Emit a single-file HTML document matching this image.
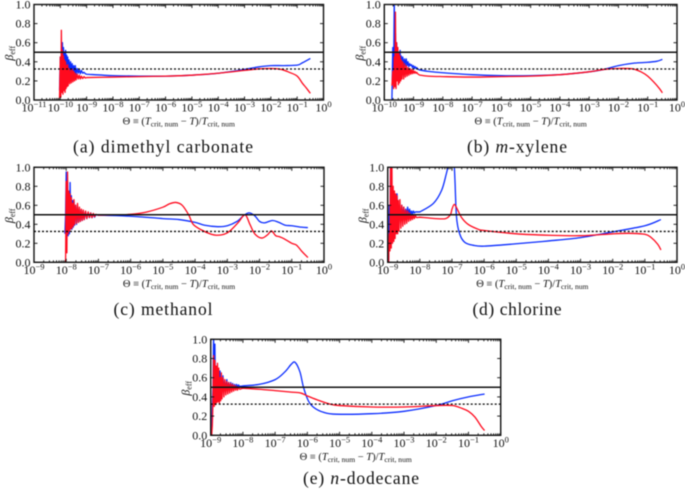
<!DOCTYPE html>
<html lang="en">
<head>
<meta charset="utf-8">
<title>Effective critical exponent charts</title>
<style>
html,body{margin:0;padding:0;background:#fff;width:685px;height:489px;overflow:hidden}
svg{display:block;filter:blur(.45px);font-family:"Liberation Serif","DejaVu Serif",serif;fill:#111}
</style>
</head>
<body>
<svg id="figure" width="685" height="489" viewBox="0 0 685 489" xmlns="http://www.w3.org/2000/svg">
<rect width="685" height="489" fill="#fff"/>
<text x="163" y="152.5" text-anchor="middle" font-size="17.5" textLength="180" lengthAdjust="spacing">(a) dimethyl carbonate</text>
<text x="517" y="152.5" text-anchor="middle" font-size="17.5" textLength="100" lengthAdjust="spacing">(b) <tspan font-style="italic">m</tspan>-xylene</text>
<text x="163" y="315" text-anchor="middle" font-size="17.5" textLength="99" lengthAdjust="spacing">(c) methanol</text>
<text x="517" y="315" text-anchor="middle" font-size="17.5" textLength="89" lengthAdjust="spacing">(d) chlorine</text>
<text x="361" y="484" text-anchor="middle" font-size="17.5" textLength="116" lengthAdjust="spacing">(e) <tspan font-style="italic">n</tspan>-dodecane</text>
</svg>
<script>
// Reference levels and y axis
const refSolid = 0.5;
const refDotted = 0.325;
const yTickValues = [0, 0.2, 0.4, 0.6, 0.8, 1.0];
const yTickLabels = ['0.0', '0.2', '0.4', '0.6', '0.8', '1.0'];

// Panel (a) dimethyl carbonate
const aNoiseX = [-10.03,-10,-9.98,-9.96,-9.94, -9.92,-9.9,-9.88,-9.86,-9.84, -9.82,-9.8,-9.78,-9.76,-9.74, -9.72,-9.7,-9.67,-9.64,-9.61, -9.58,-9.55,-9.52,-9.49,-9.46, -9.43,-9.4,-9.36,-9.32,-9.28, -9.24,-9.2,-9.15,-9.1,-9.05];
const aNoiseRed = [.02,.45,.03,.73,.08, .52,.06,.46,.1,.42, .08,.4,.12,.36,.14, .37,.15,.33,.17,.31, .18,.32,.19,.3,.2, .28,.21,.27,.22,.26, .22,.25,.225,.245,.23];
const aNoiseBlue = [.1,.45,.2,.42,.15, .6,.18,.55,.2,.5, .22,.52,.2,.47,.25, .45,.24,.42,.26,.4, .27,.38,.27,.36,.28, .36,.27,.33,.28,.32, .275,.31,.28,.29,.275];
const aRedX = [-9,-8,-7,-6,-5,-4,-3,-2.5,-2,-1.6,-1.3,-1,-.8,-.65,-.5];
const aRedY = [.235,.24,.245,.25,.26,.28,.31,.325,.33,.32,.29,.25,.175,.125,.07];
const aBlueX = [-9,-8,-7,-6,-5,-4,-3,-2.5,-2,-1.5,-1,-.8,-.5];
const aBlueY = [.27,.255,.25,.25,.26,.28,.32,.345,.36,.36,.365,.39,.435];

// Panel (b) m-xylene
const bNoiseX = [-9.74,-9.71,-9.68,-9.66,-9.64, -9.62,-9.6,-9.58,-9.56,-9.54, -9.52,-9.5,-9.48,-9.46,-9.44, -9.42,-9.4,-9.37,-9.34,-9.31, -9.28,-9.25,-9.22,-9.19,-9.16, -9.13,-9.1,-9.07,-9.04,-9.01, -8.98,-8.95,-8.92,-8.89,-8.86];
const bNoiseRed = [.15,.3,.12,.45,.14, .92,.12,.6,.2,.55, .16,.5,.18,.46,.2, .42,.22,.4,.22,.38, .24,.36,.25,.34,.26, .33,.27,.32,.275,.31, .28,.3,.28,.29,.275];
const bNoiseBlue = [0,.55,.3,1.05,.25, .7,.3,.6,.3,.55, .28,.5,.3,.52,.32, .46,.34,.45,.35,.43, .36,.43,.36,.4,.35, .38,.36,.37,.34,.36, .33,.35,.33,.34,.325];
const bRedX = [-8.8,-8.5,-8,-7,-6,-5,-4,-3,-2.5,-2,-1.5,-1.2,-1,-.8,-.6,-.5];
const bRedY = [.262,.25,.245,.24,.245,.25,.265,.295,.32,.33,.325,.29,.25,.19,.12,.075];
const bBlueX = [-8.8,-8.5,-8,-7,-6,-5,-4,-3,-2.5,-2,-1.5,-1,-.7,-.5];
const bBlueY = [.315,.3,.285,.265,.255,.255,.265,.295,.32,.36,.385,.395,.405,.425];

// Panel (c) methanol
const cNoiseX = [-8.04,-8.02,-8,-7.98,-7.96, -7.94,-7.92,-7.9,-7.88,-7.86, -7.84,-7.82,-7.8,-7.78,-7.76, -7.74,-7.71,-7.68,-7.65,-7.62, -7.59,-7.56,-7.53,-7.5,-7.47, -7.44,-7.4,-7.36,-7.32,-7.28, -7.24,-7.2,-7.16,-7.12,-7.08];
const cNoiseRed = [0,0,.85,.1,.95, .3,.75,.33,.72,.35, .68,.36,.62,.38,.66, .4,.6,.41,.62,.42, .58,.43,.56,.44,.55, .45,.54,.46,.53,.47, .52,.47,.515,.48,.505];
const cNoiseBlue = [.3,.5,.95,.3,.85, .28,.6,.3,.84,.35, .7,.35,.65,.37,.64, .39,.6,.4,.58,.42, .56,.43,.55,.44,.54, .45,.53,.46,.525,.47, .52,.47,.51,.475,.5];
const cRedX = [-7,-6.5,-6,-5.5,-5,-4.8,-4.6,-4.4,-4.2,-4.06,-3.8,-3.5,-3.33,-3.1,-2.92,-2.66,-2.45,-2.3,-2.15,-1.93,-1.75,-1.63,-1.5,-1.39,-1.25,-1,-.85,-.7,-.5];
const cRedY = [.495,.5,.505,.53,.58,.615,.63,.6,.5,.4,.34,.295,.285,.295,.33,.42,.5,.4,.3,.255,.29,.33,.28,.27,.25,.2,.18,.12,.05];
const cBlueX = [-7,-6,-5,-4.5,-4,-3.7,-3.3,-3,-2.7,-2.5,-2.33,-2.15,-2,-1.85,-1.6,-1.4,-1.2,-1,-.7,-.5];
const cBlueY = [.495,.485,.46,.45,.42,.39,.375,.385,.43,.49,.52,.49,.43,.415,.44,.42,.39,.385,.37,.365];

// Panel (d) chlorine
const dNoiseX = [-8.97,-8.95,-8.93,-8.91,-8.89, -8.87,-8.85,-8.83,-8.81,-8.79, -8.77,-8.75,-8.73,-8.71,-8.69, -8.67,-8.65,-8.62,-8.59,-8.56, -8.53,-8.5,-8.47,-8.44,-8.41, -8.38,-8.35,-8.32,-8.29,-8.26, -8.23,-8.2,-8.17,-8.14,-8.1];
const dNoiseRed = [0,.3,.12,1.05,.15, 1.05,.2,.8,.22,.75, .25,.72,.3,.7,.3, .65,.33,.66,.36,.6, .38,.58,.4,.55,.41, .54,.43,.52,.44,.5, .45,.5,.46,.49,.47];
const dNoiseBlue = [0,.6,.3,1.05,.35, .7,.35,.6,.38,.55, .36,.5,.4,.72,.42, .6,.45,.58,.44,.6, .46,.58,.48,.56,.5, .58,.5,.56,.5,.54, .51,.54,.52,.53,.53];
const dRedX = [-8,-7.5,-7.2,-7.05,-7,-6.93,-6.85,-6.7,-6.5,-6.2,-6,-5,-4,-3,-2,-1.5,-1,-.8,-.6,-.5];
const dRedY = [.475,.46,.46,.5,.56,.61,.57,.47,.4,.35,.335,.3,.285,.28,.3,.305,.295,.26,.19,.13];
const dBlueX = [-8,-7.58,-7.32,-7.17,-7.08,-6.94,-6.86,-6.75,-6.6,-6.35,-6,-5,-4,-3,-2,-1,-.5];
const dBlueY = [.53,.62,.76,.94,1.05,1.05,.48,.29,.21,.18,.17,.195,.225,.26,.32,.385,.45];

// Panel (e) n-dodecane
const eNoiseX = [-8.97,-8.95,-8.93,-8.91,-8.89, -8.87,-8.85,-8.83,-8.81,-8.79, -8.77,-8.75,-8.73,-8.71,-8.69, -8.67,-8.65,-8.62,-8.59,-8.56, -8.53,-8.5,-8.47,-8.44,-8.41, -8.38,-8.35,-8.32,-8.29,-8.26, -8.23,-8.2,-8.17,-8.14,-8.1];
const eNoiseRed = [0,.1,.35,.83,.3, .78,.32,.72,.34,.75, .35,.7,.33,.6,.36, .65,.38,.6,.4,.58, .42,.56,.43,.55,.44, .54,.45,.53,.46,.52, .47,.51,.47,.5,.48];
const eNoiseBlue = [0,.3,.5,1.05,.4, .95,.4,.72,.42,.7, .44,.6,.42,.67,.44, .6,.46,.62,.46,.56, .47,.58,.47,.55,.48, .55,.49,.54,.49,.53, .5,.53,.5,.525,.51];
const eRedX = [-8,-7.5,-7,-6.5,-6.2,-6,-5.7,-5.3,-5,-4,-3,-2,-1.5,-1.2,-1,-.8,-.6,-.5];
const eRedY = [.49,.48,.465,.45,.44,.41,.37,.325,.31,.295,.295,.31,.31,.28,.25,.19,.09,.05];
const eBlueX = [-8,-7.5,-7,-6.7,-6.5,-6.38,-6.23,-6.12,-5.97,-5.8,-5.5,-5.1,-4,-3,-2,-1.5,-1,-.5];
const eBlueY = [.515,.53,.58,.66,.74,.76,.66,.5,.36,.29,.24,.22,.225,.25,.31,.36,.4,.43];

const panels = [
  {id:'a', left:34, right:323.5, top:4.5, bottom:100, minExp:-11, noiseX:aNoiseX, noiseRed:aNoiseRed, noiseBlue:aNoiseBlue, redX:aRedX, redY:aRedY, blueX:aBlueX, blueY:aBlueY},
  {id:'b', left:384.3, right:677, top:4.5, bottom:100, minExp:-10, noiseX:bNoiseX, noiseRed:bNoiseRed, noiseBlue:bNoiseBlue, redX:bRedX, redY:bRedY, blueX:bBlueX, blueY:bBlueY},
  {id:'c', left:34, right:324, top:167.3, bottom:262.3, minExp:-9, noiseX:cNoiseX, noiseRed:cNoiseRed, noiseBlue:cNoiseBlue, redX:cRedX, redY:cRedY, blueX:cBlueX, blueY:cBlueY},
  {id:'d', left:387.7, right:677, top:167.3, bottom:262.3, minExp:-9, noiseX:dNoiseX, noiseRed:dNoiseRed, noiseBlue:dNoiseBlue, redX:dRedX, redY:dRedY, blueX:dBlueX, blueY:dBlueY},
  {id:'e', left:210.7, right:500.7, top:339.3, bottom:435.3, minExp:-9, noiseX:eNoiseX, noiseRed:eNoiseRed, noiseBlue:eNoiseBlue, redX:eRedX, redY:eRedY, blueX:eBlueX, blueY:eBlueY}
];

const NS = 'http://www.w3.org/2000/svg';
const figure = document.getElementById('figure');
function make(tag, attrs, parent) {
  const el = document.createElementNS(NS, tag);
  for (const k in attrs) el.setAttribute(k, attrs[k]);
  parent.appendChild(el);
  return el;
}

panels.forEach(function (p) {
  const xScale = function (v) { return p.left + (v - p.minExp) / (0 - p.minExp) * (p.right - p.left); };
  const yScale = function (v) { return p.bottom - v * (p.bottom - p.top); };
  const group = make('g', {}, figure);
  
  

  const clip = make('clipPath', {id: 'clip-' + p.id}, group);
  make('rect', {x: p.left, y: p.top, width: p.right - p.left, height: p.bottom - p.top}, clip);

  const plot = make('g', {'clip-path': 'url(#clip-' + p.id + ')'}, group);
  
  

  // Zigzag through the noisy samples, then a smooth curve through the rest.
  const toPath = function (nx, ny, xs, ys) {
    let d = '';
    nx.forEach(function (x, i) {
      d += (i ? 'L' : 'M') + xScale(x).toFixed(2) + ' ' + yScale(ny[i]).toFixed(2);
    });
    const px = xs.map(xScale);
    const py = ys.map(yScale);
    d += 'L' + px[0].toFixed(2) + ' ' + py[0].toFixed(2);
    for (let i = 0; i < px.length - 1; i++) {
      const a = Math.max(i - 1, 0);
      const b = Math.min(i + 2, px.length - 1);
      const c1x = px[i] + (px[i + 1] - px[a]) / 6;
      const c1y = py[i] + (py[i + 1] - py[a]) / 6;
      const c2x = px[i + 1] - (px[b] - px[i]) / 6;
      const c2y = py[i + 1] - (py[b] - py[i]) / 6;
      d += 'C' + c1x.toFixed(2) + ' ' + c1y.toFixed(2) + ' ' + c2x.toFixed(2) + ' ' + c2y.toFixed(2) + ' ' + px[i + 1].toFixed(2) + ' ' + py[i + 1].toFixed(2);
    }
    return d;
  };
  const blueLine = make('path', {d: toPath(p.noiseX, p.noiseBlue, p.blueX, p.blueY), fill: 'none', stroke: '#0a2cff', 'stroke-width': 1.3, 'stroke-linejoin': 'round'}, plot);
  
  
  const redLine = make('path', {d: toPath(p.noiseX, p.noiseRed, p.redX, p.redY), fill: 'none', stroke: '#ff0a1e', 'stroke-width': 1.3, 'stroke-linejoin': 'round'}, plot);
  
  

  const solid = make('line', {x1: p.left, x2: p.right, y1: yScale(refSolid), y2: yScale(refSolid), stroke: '#111', 'stroke-width': 1.5}, group);
  
  
  const dotted = make('line', {x1: p.left, x2: p.right, y1: yScale(refDotted), y2: yScale(refDotted), stroke: '#000', 'stroke-width': 1.3, 'stroke-dasharray': '2 2'}, group);
  
  

  const ticks = make('g', {stroke: '#111', 'stroke-width': 0.9}, group);
  
  
  for (let e = p.minExp; e <= 0; e++) {
    const x = xScale(e);
    make('line', {x1: x, x2: x, y1: p.bottom, y2: p.bottom - 3.5}, ticks);
    make('line', {x1: x, x2: x, y1: p.top, y2: p.top + 3.5}, ticks);
    if (e < 0) {
      for (let m = 2; m < 10; m++) {
        const mx = xScale(e + Math.log10(m));
        make('line', {x1: mx, x2: mx, y1: p.bottom, y2: p.bottom - 2}, ticks);
        make('line', {x1: mx, x2: mx, y1: p.top, y2: p.top + 2}, ticks);
      }
    }
    const label = make('text', {x: x, y: p.bottom + 11.5, 'text-anchor': 'middle', 'font-size': 12}, group);
    label.innerHTML = '10<tspan dy="-4.5" font-size="8.5">' + (e < 0 ? '\u2212' + (-e) : '0') + '</tspan>';
    
    
  }
  yTickValues.forEach(function (v, i) {
    const y = yScale(v);
    make('line', {x1: p.left, x2: p.left + 3.5, y1: y, y2: y}, ticks);
    make('line', {x1: p.right, x2: p.right - 3.5, y1: y, y2: y}, ticks);
    const label = make('text', {x: p.left - 3.5, y: y + 4, 'text-anchor': 'end', 'font-size': 12}, group);
    label.textContent = yTickLabels[i];
    
    
  });

  const frame = make('rect', {x: p.left, y: p.top, width: p.right - p.left, height: p.bottom - p.top, fill: 'none', stroke: '#111', 'stroke-width': 1.4}, group);
  
  

  const cx = (p.left + p.right) / 2;
  const xTitle = make('text', {x: cx, y: p.bottom + 24.5, 'text-anchor': 'middle', 'font-size': 10.5}, group);
  xTitle.innerHTML = '\u0398 \u2261 (<tspan font-style="italic">T</tspan><tspan dy="2" font-size="7.6">crit, num</tspan><tspan dy="-2"> \u2212 </tspan><tspan font-style="italic">T</tspan>)/<tspan font-style="italic">T</tspan><tspan dy="2" font-size="7.6">crit, num</tspan>';
  
  

  const yCenter = (p.top + p.bottom) / 2 + 1;
  const yx = p.left - 21;
  const yTitle = make('text', {x: yx, y: yCenter, 'text-anchor': 'middle', 'font-size': 12, transform: 'rotate(-90 ' + yx + ' ' + yCenter + ')'}, group);
  yTitle.innerHTML = '<tspan font-style="italic">\u03B2</tspan><tspan dy="2" font-size="8">eff</tspan>';
  
  
});
</script>
</body>
</html>
